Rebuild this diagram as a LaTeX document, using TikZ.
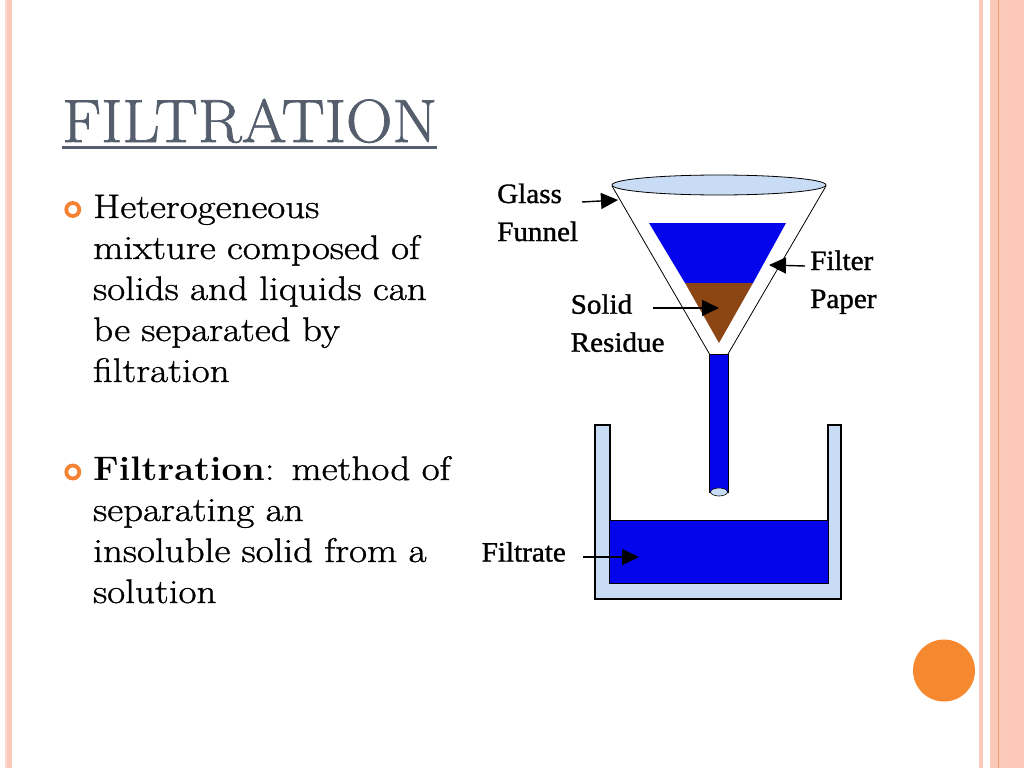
\documentclass[tikz,border=0pt]{standalone}
\usepackage{fontspec}
\setmainfont{Latin Modern Roman}[FakeStretch=1.15, FakeBold=1]
\newfontfamily\titlefamily{Latin Modern Roman}[FakeStretch=1.06, FakeBold=1.2]
\newfontfamily\keyfamily{Latin Modern Roman}[FakeStretch=1.07]
\newfontfamily\labelfont{Liberation Serif}[FakeStretch=1.04, FakeBold=1.2]
\usepackage{xcolor}
\usepackage{tikz}
\definecolor{titlegray}{RGB}{84,94,108}
\definecolor{bulletorange}{RGB}{245,130,50}
\definecolor{borderpink}{RGB}{252,200,184}
\definecolor{borderlight}{RGB}{250,218,205}
\definecolor{borderline}{RGB}{244,160,110}
\definecolor{glassblue}{RGB}{200,220,245}
\definecolor{liquidblue}{RGB}{5,5,235}
\definecolor{residuebrown}{RGB}{140,70,20}
\usetikzlibrary{arrows.meta, positioning}

\begin{document}
\begin{tikzpicture}[
    x=1pt, y=-1pt,
    bodytext/.style={anchor=base west, inner sep=0pt, align=left,
                     text width=420pt, font=\fontsize{34}{41}\selectfont},
    lbl/.style={anchor=base west, inner sep=0pt, align=left,
                font=\labelfont\fontsize{28}{38}\selectfont},
    ring/.style={draw=bulletorange, line width=3.8pt},
    pointer/.style={line width=1.4pt, -{Triangle[length=17pt, width=16pt]}},
    outline/.style={draw=black, line width=1.2pt}
]
    % slide frame
    \fill[white] (0,0) rectangle (1024,768);
    \useasboundingbox (0,0) rectangle (1024,768);
    \fill[borderlight] (5,0) rectangle (6.5,768);
    \fill[borderpink] (7.3,0) rectangle (11.7,768);
    \fill[borderpink] (979,0) rectangle (983.3,768);
    \fill[borderpink] (990,0) rectangle (1024,768);
    \fill[borderline] (998,0) rectangle (999.2,768);
    \fill[borderlight!80!borderline] (1004.5,0) rectangle (1006,768);
    \fill[bulletorange!95!yellow] (944,670.5) circle[radius=31];

    % title
    \node[anchor=base west, inner sep=0pt, text=titlegray,
          font=\titlefamily\fontsize{61}{63}\selectfont] (title) at (62,142) {FILTRATION};
    \draw[titlegray, line width=3.3pt]
        ([yshift=-5.5pt]title.base west) -- ([yshift=-5.5pt]title.base east);

    % bullets
    \draw[ring] (72.8,209.5) circle[radius=6.5];
    \node[bodytext] (mixture) at (93,218)
        {Heterogeneous\\mixture composed of\\solids and liquids can\\be separated by\\filtration};
    \draw[ring] (72.8,472) circle[radius=6.5];
    \node[bodytext] (method) at (93,480)
        {{\keyfamily\bfseries Filtration}: method of\\separating an\\insoluble solid from a\\solution};

    % funnel
    \draw[draw=black, line width=0.8pt, fill=glassblue] (719,185) ellipse[x radius=107, y radius=10];
    \fill[liquidblue] (649,223) -- (786,223) -- (753,283) -- (685,283) -- cycle;
    \fill[residuebrown] (685,283) -- (753,283) -- (719,343) -- cycle;
    \draw[outline, fill=liquidblue, line width=1pt] (709.5,354) rectangle (728,492);
    \draw[black, line width=0.8pt] (612,186) -- (709.5,354);
    \draw[black, line width=0.8pt] (826,186) -- (728,354);
    \draw[black, line width=0.6pt, fill=glassblue] (719,492) ellipse[x radius=8.5, y radius=4];

    % beaker
    \draw[outline, fill=glassblue] (595,425) -- (595,599) -- (841,599) -- (841,425)
        -- (828,425) -- (828,583) -- (610,583) -- (610,425) -- cycle;
    \fill[liquidblue] (610,520) rectangle (828,583);
    \draw[black, line width=1pt] (610,520) -- (828,520);

    % labels (base is the last line)
    \node[lbl] (glass) at (497,241) {Glass\\Funnel};
    \node[lbl] (filter) at (810,308) {Filter\\Paper};
    \node[lbl] (solid) at (570.5,351.7) {Solid\\Residue};
    \node[lbl] (filtrate) at (481.5,561.5) {Filtrate};

    \coordinate (glasstail) at (582,202);
    \coordinate (glasstip) at (618,200);
    \coordinate (filtertail) at (805,266);
    \coordinate (filtertip) at (769,265);
    \coordinate (solidtail) at (653,308);
    \coordinate (solidtip) at (719,308);
    \coordinate (filtratetail) at (583,557);
    \coordinate (filtratetip) at (639,557);
    \foreach \lbl in {glass, filter, solid, filtrate}
        \draw[pointer] (\lbl tail) -- (\lbl tip);
\end{tikzpicture}
\end{document}
